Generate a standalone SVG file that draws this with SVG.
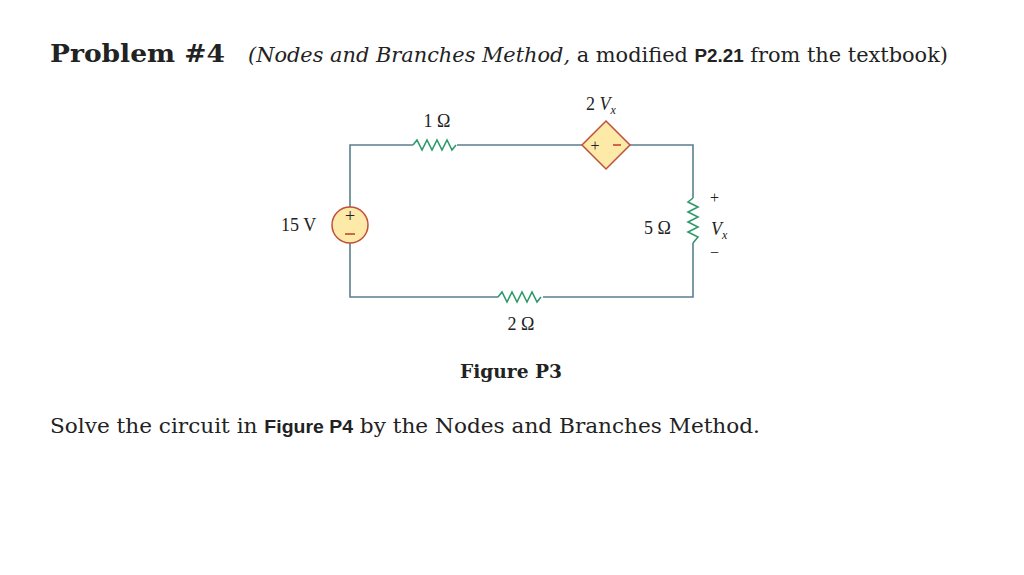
<svg xmlns="http://www.w3.org/2000/svg" width="1024" height="575" viewBox="0 0 1024 575">
<style>
.t{font-family:"DejaVu Serif","Liberation Serif",serif;fill:#222}
.c{font-family:"Liberation Serif",serif;fill:#222}
.w{fill:none;stroke:#5b7f8f;stroke-width:1.6}
.r{fill:none;stroke:#2e9a6a;stroke-width:1.6}
</style>
<rect width="1024" height="575" fill="#fff"/>
<text x="50" y="62" class="t" font-size="25" font-weight="bold" fill="#111" textLength="175" lengthAdjust="spacingAndGlyphs">Problem #4</text>
<text x="248" y="62" class="t" font-size="20" textLength="700" lengthAdjust="spacingAndGlyphs"><tspan font-style="italic">(Nodes and Branches Method,</tspan> a modified <tspan font-family="Liberation Sans,sans-serif" font-weight="bold" font-size="18">P2.21</tspan> from the textbook)</text>
<g id="wires">
<path class="w" d="M350 207V145H413M457 145H582M630 145H693V198M693 243V297H543M498 297H350V243"/>
</g>
<g id="r1"><path class="r" d="M413 145l4-5 5 10 5-10 5 10 5-10 5 10 5-10 5 10 4-5"/></g>
<g id="r2"><path class="r" d="M498 297l4-5 5 10 5-10 5 10 5-10 5 10 5-10 5 10 4-5"/></g>
<g id="r5"><path class="r" d="M693 198l-5 4 10 5-10 5 10 5-10 5 10 5-10 5 10 5-5 6"/></g>
<g id="vs">
<circle cx="350" cy="225" r="18" fill="#fde9a8" stroke="#c0503a" stroke-width="1.5"/>
<text x="350" y="222" class="c" font-size="18" text-anchor="middle" fill="#c0392b">+</text>
<path d="M345 234h10" stroke="#c0392b" stroke-width="1.5"/>
</g>
<g id="dep">
<path d="M606 121L630 145 606 169 582 145Z" fill="#fde9a8" stroke="#c0503a" stroke-width="1.5"/>
<text x="595" y="151" class="c" font-size="16" text-anchor="middle" fill="#c0392b">+</text>
<path d="M613 145h8" stroke="#c0392b" stroke-width="1.5"/>
</g>
<g id="labels" class="c" font-size="18">
<text x="437" y="127" text-anchor="middle">1 Ω</text>
<text x="586" y="110">2 <tspan font-style="italic">V</tspan><tspan font-style="italic" font-size="12" dy="4">x</tspan></text>
<text x="281" y="231">15 V</text>
<text x="644" y="234">5 Ω</text>
<text x="710" y="203" font-size="16">+</text>
<text x="711" y="235" font-style="italic">V<tspan font-size="12" dy="4">x</tspan></text>
<text x="710" y="258" font-size="16">−</text>
<text x="521" y="330" text-anchor="middle">2 Ω</text>
</g>
<text x="460" y="378" class="t" font-size="19" font-weight="bold" textLength="102" lengthAdjust="spacingAndGlyphs">Figure P3</text>
<text x="50" y="433" class="t" font-size="20" textLength="710" lengthAdjust="spacingAndGlyphs">Solve the circuit in <tspan font-family="Liberation Sans,sans-serif" font-weight="bold" font-size="18">Figure P4</tspan> by the Nodes and Branches Method.</text>
</svg>
